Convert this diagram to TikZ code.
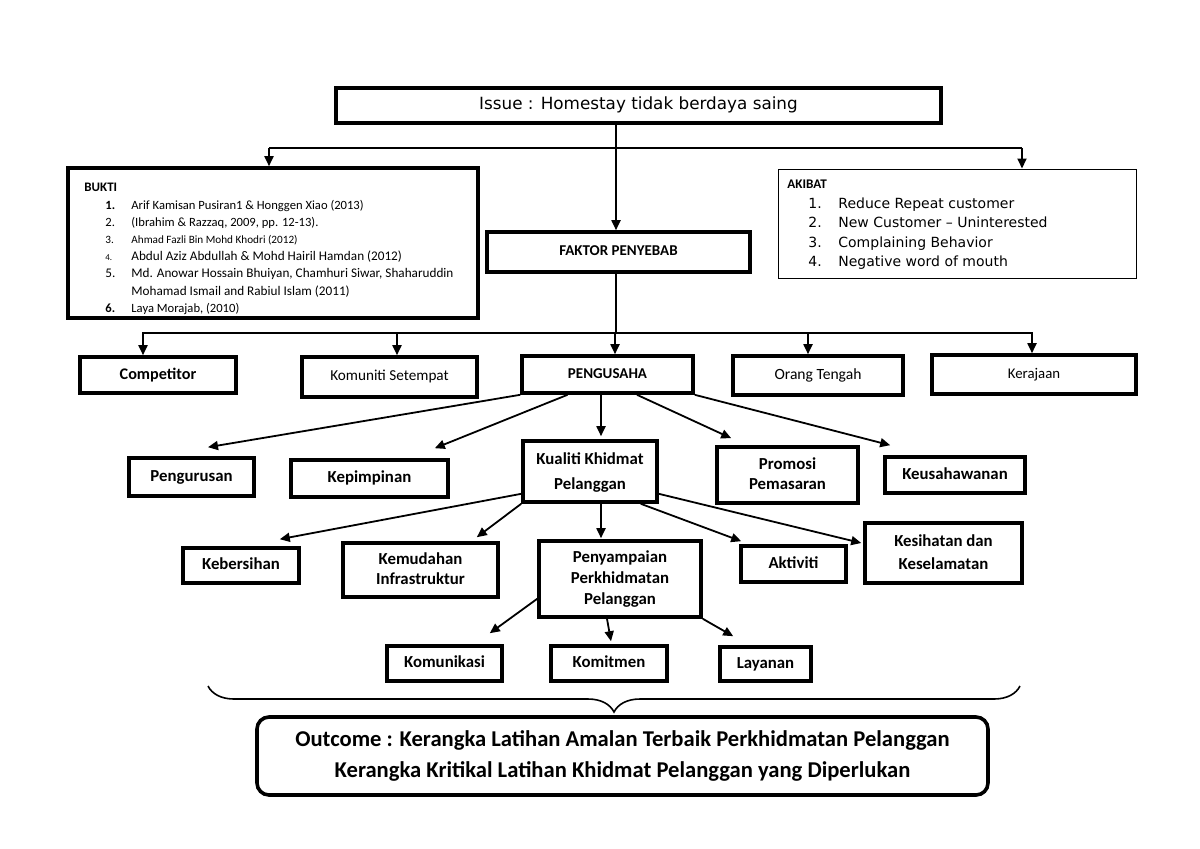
\documentclass[tikz,border=0pt]{standalone}
\usepackage{fontspec}
\setmainfont{Carlito}
\newfontfamily\verdana{DejaVu Sans}
\usetikzlibrary{arrows.meta, decorations.pathreplacing}

\begin{document}
\begin{tikzpicture}[x=0.5pt, y=-0.5pt]
      \tikzstyle{box} = [draw, line width=1.8pt, inner sep=0pt, align=center, font=\bfseries\fontsize{8.4}{10.5}\selectfont, execute at begin node=\strut]
      \tikzstyle{plainbox} = [box, font=\fontsize{7.8}{9.5}\selectfont]
      \tikzstyle{listbox} = [draw, line width=0.5pt, inner sep=0pt]
      \tikzstyle{edge} = [-{Triangle[length=5pt, width=4.5pt]}, line width=0.9pt]
      \tikzstyle{link} = [line width=0.9pt]
      \useasboundingbox (0,0) rectangle (1200,848);
      % top level
      \node[box, font=\verdana\fontsize{8.4}{10}\selectfont, minimum width=302.5pt, minimum height=17.5pt] (issue) at (638.5,105.5) {Issue : Homestay tidak berdaya saing};
      \node[box, minimum width=205pt, minimum height=75pt] (bukti) at (273,243) {};
      \node[listbox, minimum width=179pt, minimum height=54.5pt] (akibat) at (957,223.5) {};
      \node[box, font=\bfseries\fontsize{7.5}{9}\selectfont, minimum width=131.5pt, minimum height=20pt] (faktor) at (618.5,252) {FAKTOR PENYEBAB};
      % box contents
      \node[anchor=north west, inner sep=0pt, align=left, font=\fontsize{6.3}{8.6}\selectfont] (buktilist) at (84,183) {%
        {\bfseries\fontsize{6.5}{8.6}\selectfont BUKTI}\\
        \hspace*{10.5pt}\makebox[13pt][l]{\bfseries 1.}Arif Kamisan Pusiran1 \& Honggen Xiao (2013)\\
        \hspace*{10.5pt}\makebox[13pt][l]{2.}(Ibrahim \& Razzaq, 2009, pp. 12-13).\\
        {\fontsize{5.6}{8.6}\selectfont\hspace*{10.5pt}\makebox[13pt][l]{3.}Ahmad Fazli Bin Mohd Khodri (2012)}\\
        {\fontsize{6.6}{8.6}\selectfont\hspace*{10.5pt}\makebox[13pt][l]{\fontsize{4.5}{8.6}\selectfont 4.}Abdul Aziz Abdullah \& Mohd Hairil Hamdan (2012)}\\
        {\fontsize{6.6}{8.6}\selectfont\hspace*{10.5pt}\makebox[13pt][l]{5.}Md. Anowar Hossain Bhuiyan, Chamhuri Siwar, Shaharuddin}\\
        {\fontsize{6.6}{8.6}\selectfont\hspace*{23.5pt}Mohamad Ismail and Rabiul Islam (2011)}\\
        \hspace*{10.5pt}\makebox[13pt][l]{\bfseries 6.}Laya Morajab, (2010)};
      \node[anchor=north west, inner sep=0pt, align=left, font=\verdana\fontsize{7}{9.75}\selectfont] (akibatlist) at (787,180) {%
        {\normalfont\bfseries\fontsize{6.6}{9.75}\selectfont AKIBAT}\\
        \hspace*{10.5pt}\makebox[15pt][l]{1.}Reduce Repeat customer\\
        \hspace*{10.5pt}\makebox[15pt][l]{2.}New Customer – Uninterested\\
        \hspace*{10.5pt}\makebox[15pt][l]{3.}Complaining Behavior\\
        \hspace*{10.5pt}\makebox[15pt][l]{4.}Negative word of mouth};
      % faktor row
      \node[box, font=\bfseries\fontsize{8.1}{10}\selectfont, minimum width=78pt, minimum height=18pt] (competitor) at (158,375) {Competitor};
      \node[plainbox, font=\fontsize{7.6}{9.5}\selectfont, minimum width=87.5pt, minimum height=20pt] (komuniti) at (389.5,377) {Komuniti Setempat};
      \node[box, font=\bfseries\fontsize{7.5}{9}\selectfont, minimum width=85.5pt, minimum height=18.5pt] (pengusaha) at (607.5,374.5) {PENGUSAHA};
      \node[plainbox, minimum width=85pt, minimum height=19.5pt] (orang) at (818,375.5) {Orang Tengah};
      \node[plainbox, font=\fontsize{7.4}{9.5}\selectfont, minimum width=102pt, minimum height=19.5pt] (kerajaan) at (1034,374.5) {Kerajaan};
      % pengusaha row
      \node[box, minimum width=62.5pt, minimum height=19pt] (pengurusan) at (191.5,477) {Pengurusan};
      \node[box, minimum width=78.5pt, minimum height=18.5pt] (kepimpinan) at (369.5,478.5) {Kepimpinan};
      \node[box, font=\bfseries\fontsize{8.4}{12.5}\selectfont, minimum width=67pt, minimum height=30.5pt] (kualiti) at (590,471.5) {\begin{tabular}{@{}c@{}}Kualiti Khidmat\\ Pelanggan\end{tabular}};
      \node[box, font=\bfseries\fontsize{8.4}{10}\selectfont, minimum width=70.5pt, minimum height=28pt] (promosi) at (787.5,475) {\begin{tabular}{@{}c@{}}Promosi\\ Pemasaran\end{tabular}};
      \node[box, minimum width=70pt, minimum height=18pt] (keusahawanan) at (955,475) {Keusahawanan};
      % kualiti row
      \node[box, minimum width=58pt, minimum height=17.5pt] (kebersihan) at (241,565.5) {Kebersihan};
      \node[box, font=\bfseries\fontsize{8.4}{10}\selectfont, minimum width=77.5pt, minimum height=27pt] (kemudahan) at (420.5,570) {\begin{tabular}{@{}c@{}}Kemudahan\\ Infrastruktur\end{tabular}};
      \node[box, minimum width=81pt, minimum height=38pt] (penyampaian) at (620,579) {\begin{tabular}{@{}c@{}}Penyampaian\\ Perkhidmatan\\ Pelanggan\end{tabular}};
      \node[box, minimum width=52.5pt, minimum height=18pt] (aktiviti) at (793.5,564) {Aktiviti};
      \node[box, font=\bfseries\fontsize{8.4}{11.5}\selectfont, minimum width=78.5pt, minimum height=30pt] (kesihatan) at (943.5,553) {\begin{tabular}{@{}c@{}}Kesihatan dan\\ Keselamatan\end{tabular}};
      % penyampaian row
      \node[box, minimum width=57.5pt, minimum height=17.5pt] (komunikasi) at (444.5,663.5) {Komunikasi};
      \node[box, minimum width=58pt, minimum height=17.5pt] (komitmen) at (609,663.5) {Komitmen};
      \node[box, minimum width=45.5pt, minimum height=17pt] (layanan) at (765.5,664) {Layanan};
      % outcome
      \node[box, rounded corners=6pt, font=\bfseries\fontsize{11.3}{15.5}\selectfont, minimum width=365.5pt, minimum height=39pt] (outcome) at (622.5,756) {\begin{tabular}{@{}c@{}}Outcome : Kerangka Latihan Amalan Terbaik Perkhidmatan Pelanggan\\ Kerangka Kritikal Latihan Khidmat Pelanggan yang Diperlukan\end{tabular}};
      % issue split
      \coordinate (split) at (616,148);
      \coordinate (bukdrop) at (269,148);
      \coordinate (akidrop) at (1022,148);
      \draw[link] (issue.south -| split) -- (split);
      \draw[link] (bukdrop) -- (akidrop);
      \draw[edge] (split) -- (split |- faktor.north);
      \draw[edge] (bukdrop) -- (bukdrop |- bukti.north);
      \draw[edge] (akidrop) -- (akidrop |- akibat.north);
      % faktor split
      \coordinate (hub) at (616,333);
      \draw[link] (faktor.south -| hub) -- (hub);
      \foreach \n/\dx in {competitor/-15, komuniti/7.5, pengusaha/7.5, orang/-10, kerajaan/-2}
        \draw[edge] (hub) -| ([shift={(\dx,0)}]\n.north);
      % pengusaha
      \draw[edge] (pengusaha.south west) -- ([shift={(16.5,-9)}]pengurusan.north);
      \draw[edge] ([shift={(-40,0)}]pengusaha.south) -- ([shift={(-15,-10)}]kepimpinan.north east);
      \draw[edge] ([shift={(-6.5,0)}]pengusaha.south) -- ([shift={(11,-3)}]kualiti.north);
      \draw[edge] ([shift={(29.5,0)}]pengusaha.south) -- ([shift={(16,-7)}]promosi.north west);
      \draw[edge] (pengusaha.south east) -- ([shift={(7,-10)}]keusahawanan.north west);
      % kualiti
      \draw[edge] ([shift={(0,-10)}]kualiti.south west) -- ([shift={(-21,-7)}]kebersihan.north east);
      \draw[edge] (kualiti.south west) -- ([shift={(-23,-4)}]kemudahan.north east);
      \draw[edge] ([shift={(11,0)}]kualiti.south) -- ([shift={(-19,-1)}]penyampaian.north);
      \draw[edge] ([shift={(-18,0)}]kualiti.south east) -- ([shift={(2,-3)}]aktiviti.north west);
      \draw[edge] ([shift={(0,-10)}]kualiti.south east) -- ([shift={(-2,-10)}]kesihatan.west);
      % penyampaian
      \draw[edge] ([shift={(0,-20)}]penyampaian.south west) -- ([shift={(-14,-11)}]komunikasi.north east);
      \draw[edge] ([shift={(-13,0)}]penyampaian.south) -- ([shift={(2,-3)}]komitmen.north);
      \draw[edge] (penyampaian.south east) -- ([shift={(15,-9)}]layanan.north west);
      % brace
      \coordinate (bracel) at (208,686);
      \coordinate (bracer) at (1020,686);
      \draw[line width=0.8pt, decorate, decoration={brace, mirror, amplitude=13pt}] (bracel) -- (bracer);
\end{tikzpicture}
\end{document}
